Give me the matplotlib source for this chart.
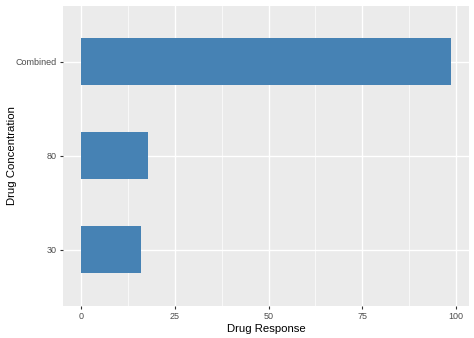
import matplotlib.pyplot as plt

plt.rcParams['font.family'] = ['Liberation Sans', 'DejaVu Sans']

# data
categories = ['30', '80', 'Combined']
response = [16.0, 17.9, 98.7]
x_ticks = [0, 25, 50, 75, 100]
x_minor = [12.5, 37.5, 62.5, 87.5]

panel_bg = '#EBEBEB'
bar_color = '#4682B4'
tick_color = '#4D4D4D'

fig = plt.figure(figsize=(4.74, 3.38), dpi=100)
ax = fig.add_axes([63 / 474, 1 - 306 / 338, (469 - 63) / 474, (306 - 5.6) / 338])
ax.set_facecolor(panel_bg)

ypos = list(range(1, len(categories) + 1))
ax.barh(ypos, response, height=0.5, color=bar_color, zorder=3)

ax.set_xlim(-4.94, 103.6)
ax.set_ylim(0.4, 3.6)
ax.set_xticks(x_ticks)
ax.set_xticks(x_minor, minor=True)
ax.set_yticks(ypos)
ax.set_yticklabels(categories)

ax.grid(which='major', color='white', linewidth=1.0, zorder=0)
ax.grid(which='minor', axis='x', color='white', linewidth=0.5, zorder=0)
ax.set_axisbelow(True)

for s in ax.spines.values():
    s.set_visible(False)
ax.tick_params(which='major', length=2.5, width=0.8, color='#333333',
               labelsize=6.5, labelcolor=tick_color, pad=2)
ax.tick_params(which='minor', length=0)

ax.set_xlabel('Drug Response', fontsize=8.2, color='black', labelpad=2)
ax.set_ylabel('Drug Concentration', fontsize=8.2, color='black')
ax.yaxis.set_label_coords(-(63 - 17) / 406, 0.5)

fig.savefig('out.png', dpi=100)
